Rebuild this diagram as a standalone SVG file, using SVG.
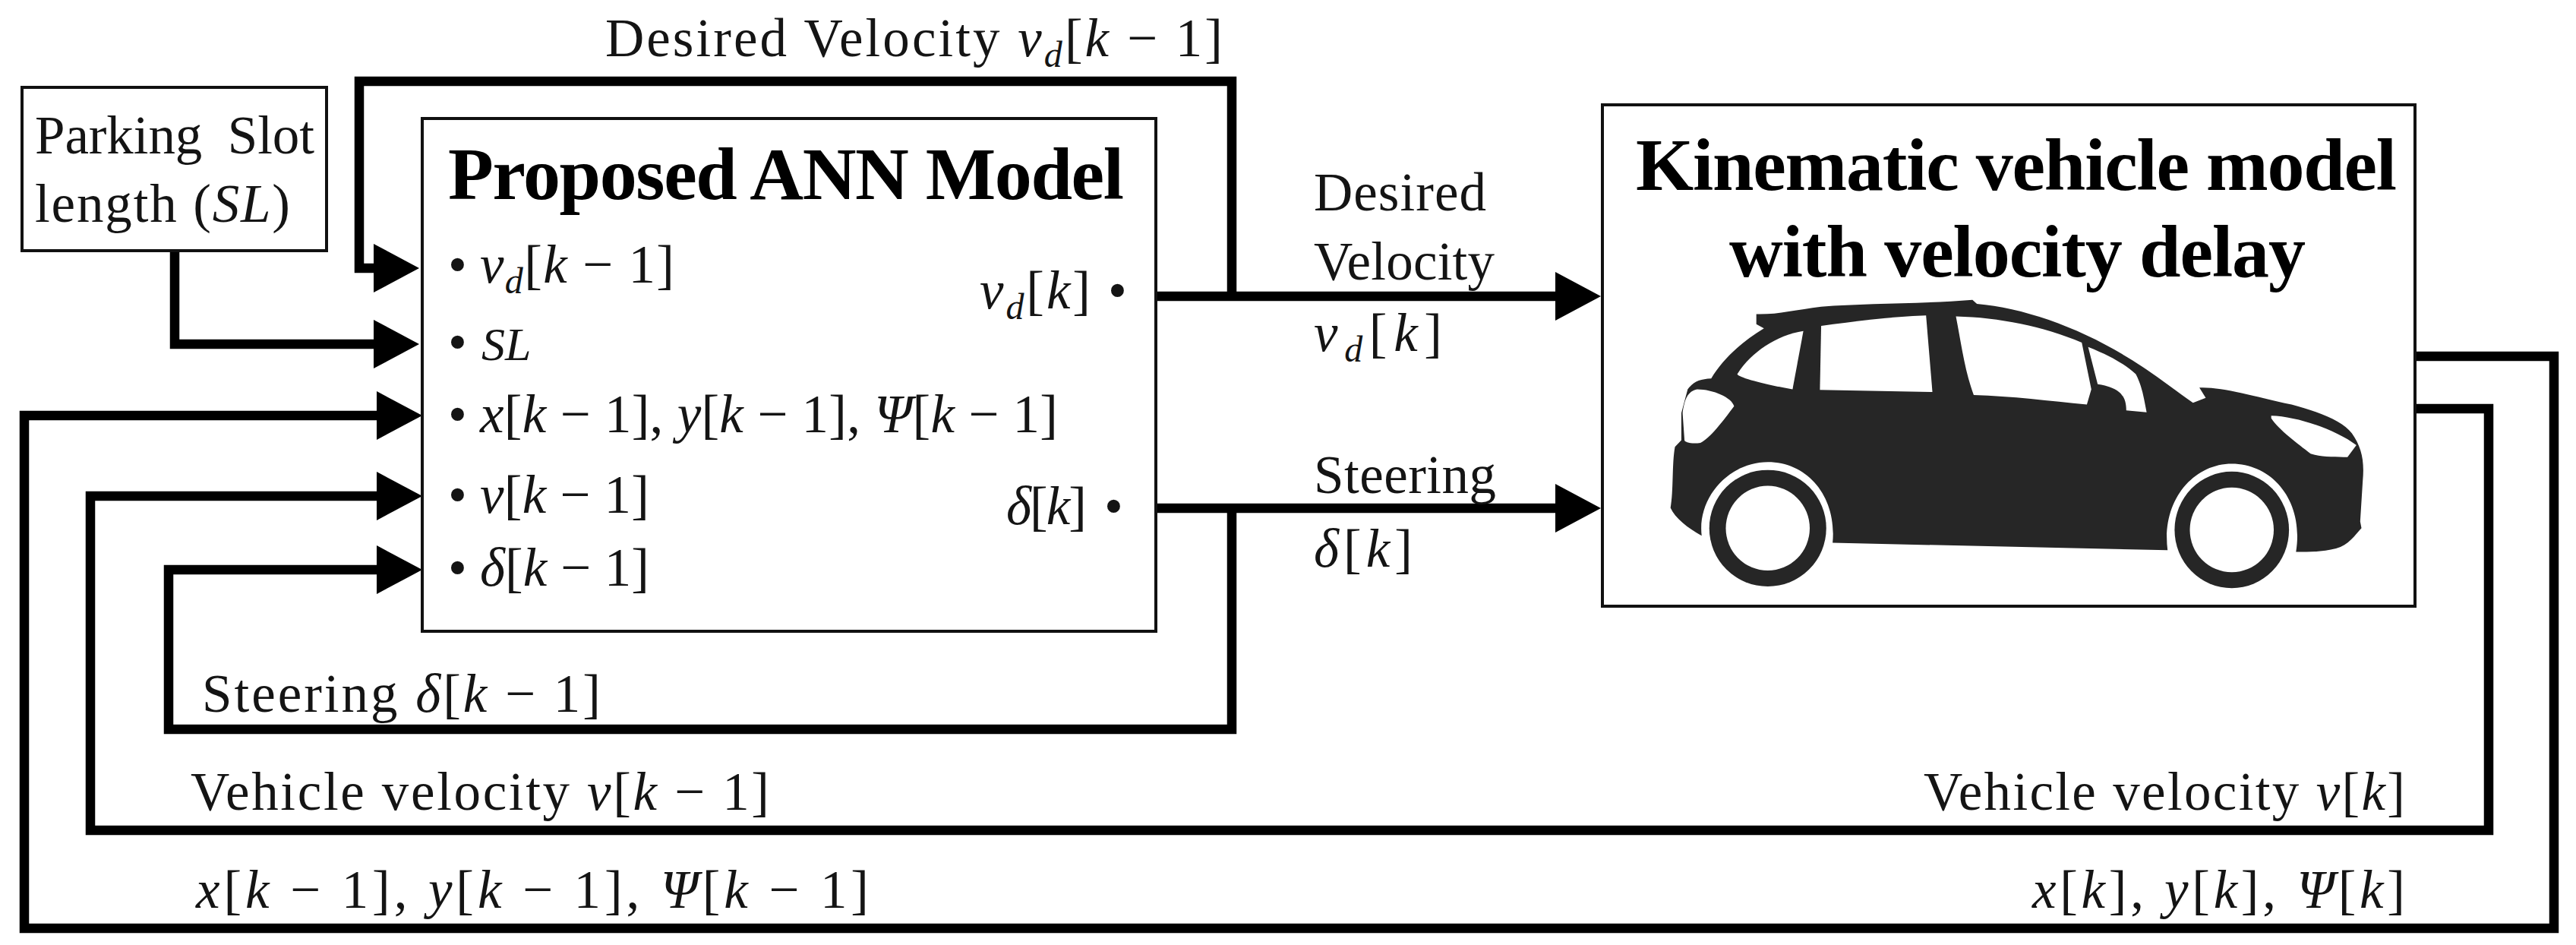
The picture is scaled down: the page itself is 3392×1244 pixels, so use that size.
<svg xmlns="http://www.w3.org/2000/svg" width="3392" height="1244" viewBox="0 0 3392 1244">
<style>
text{font-family:"Liberation Serif","Times New Roman",serif;fill:#141414;font-size:71px}
.t{font-weight:700;font-size:98px;fill:#000}
.m{font-style:italic}
.s{font-size:48px;font-style:italic}
.box{fill:#fff;stroke:#111;stroke-width:4}
.c{fill:none;stroke:#000;stroke-width:12.5;stroke-linejoin:miter}
.a{marker-end:url(#ah)}
.car{fill:#262626}
.w{fill:#fff}
</style>
<defs>
<marker id="ah" markerUnits="userSpaceOnUse" markerWidth="62" markerHeight="66" refX="0" refY="33" orient="auto" viewBox="0 0 62 66"><polygon points="0,1 60,33 0,65" fill="#000"/></marker>
</defs>
<rect width="3392" height="1244" fill="#fff"/>
<g id="connectors">
<path class="c a" d="M1622 390V107H473V353H492"/>
<path class="c a" d="M230 330V453H492"/>
<path class="c a" d="M3180 469H3363V1222H32V547H496"/>
<path class="c a" d="M3180 538H3277V1093H119V653H496"/>
<path class="c a" d="M1622 669V960H222V750H496"/>
<path class="c a" d="M1522 390H2048"/>
<path class="c a" d="M1522 669H2048"/>
</g>
<g id="parking-slot">
<rect class="box" x="29" y="115" width="401" height="215"/>
<text x="46" y="202" textLength="368" word-spacing="16">Parking Slot</text>
<text x="46" y="292" textLength="336">length (<tspan class="m">SL</tspan>)</text>
</g>
<g id="ann-model">
<rect class="box" x="556" y="156" width="966" height="675"/>
<text class="t" x="590" y="262" textLength="890">Proposed ANN Model</text>
<text x="590" y="372">•</text><text x="632" y="372" textLength="256"><tspan class="m">v</tspan><tspan class="s" dy="14">d</tspan><tspan dy="-14">[</tspan><tspan class="m">k</tspan> − 1]</text>
<text x="590" y="474">•</text><text class="m" x="634" y="474" style="font-size:62px">SL</text>
<text x="590" y="569">•</text><text x="632" y="569" textLength="761"><tspan class="m">x</tspan>[<tspan class="m">k</tspan> − 1], <tspan class="m">y</tspan>[<tspan class="m">k</tspan> − 1], <tspan class="m">Ψ</tspan>[<tspan class="m">k</tspan> − 1]</text>
<text x="590" y="675">•</text><text x="632" y="675" textLength="223"><tspan class="m">v</tspan>[<tspan class="m">k</tspan> − 1]</text>
<text x="590" y="771">•</text><text x="632" y="771" textLength="223"><tspan class="m">δ</tspan>[<tspan class="m">k</tspan> − 1]</text>
<text x="1290" y="406" textLength="146"><tspan class="m">v</tspan><tspan class="s" dy="14">d</tspan><tspan dy="-14">[</tspan><tspan class="m">k</tspan>]</text><text x="1459" y="406">•</text>
<text x="1325" y="690" textLength="106"><tspan class="m">δ</tspan>[<tspan class="m">k</tspan>]</text><text x="1454" y="690">•</text>
</g>
<g id="kinematic-model">
<rect class="box" x="2110" y="138" width="1070" height="660"/>
<text class="t" x="2154" y="250" textLength="1002">Kinematic vehicle model</text>
<text class="t" x="2277" y="364" textLength="759">with velocity delay</text>
<g transform="translate(2080,120) scale(.837,.446)">
<path class="car" d="M278 658C310 660 340 645 380 636C450 625 540 628 618 616L625 628C700 640 790 700 870 795C900 830 935 880 965 920L985 905L975 875C1010 872 1060 900 1120 925C1170 950 1200 975 1215 1010C1230 1050 1235 1090 1232 1150L1228 1270L1230 1290C1220 1310 1210 1340 1190 1350C1170 1360 1150 1360 1127 1360C1140 1210 1090 1100 1026 1100C965 1100 915 1210 925 1355L398 1333C405 1200 360 1095 296 1095C235 1095 185 1200 192 1312C170 1290 150 1260 143 1230C148 1180 145 1100 150 1050L160 1030L160 950L170 880C180 855 190 850 207 848C225 790 255 740 290 700L278 688Z"/>
<path class="w" d="M352 708C310 720 270 770 248 835C250 845 290 865 335 880Z"/>
<path class="w" d="M380 693C430 680 490 665 545 662L555 888L378 882Z"/>
<path class="w" d="M592 665C660 668 730 695 790 742L805 880L798 925C740 915 680 900 620 897C605 820 600 740 592 665Z"/>
<path class="w" d="M800 755C840 785 860 810 875 835C885 870 888 910 892 948L860 942C860 900 850 875 815 865Z"/>
<path class="w" d="M185 880C210 880 240 905 243 930C225 975 205 1025 190 1038C175 1042 165 1035 165 1030L162 950C165 910 170 885 185 880Z"/>
<path class="w" d="M1088 958C1130 960 1190 1000 1222 1045L1208 1080C1190 1080 1165 1080 1150 1070C1130 1040 1100 1000 1088 965Z"/>
<ellipse class="car" cx="296" cy="1290" rx="92" ry="172"/><ellipse class="w" cx="296" cy="1290" rx="66" ry="125"/>
<ellipse class="car" cx="1026" cy="1295" rx="90" ry="172"/><ellipse class="w" cx="1026" cy="1295" rx="66" ry="125"/>
</g>
</g>
<g id="labels">
<text x="797" y="74" textLength="813">Desired Velocity <tspan class="m">v</tspan><tspan class="s" dy="14">d</tspan><tspan dy="-14">[</tspan><tspan class="m">k</tspan> − 1]</text>
<text x="1730" y="277" textLength="227">Desired</text>
<text x="1730" y="368" textLength="238">Velocity</text>
<text x="1730" y="462" textLength="169"><tspan class="m">v</tspan><tspan class="s" dy="14">d</tspan><tspan dy="-14">[</tspan><tspan class="m">k</tspan>]</text>
<text x="1730" y="649" textLength="240">Steering</text>
<text x="1730" y="746" textLength="130"><tspan class="m">δ</tspan>[<tspan class="m">k</tspan>]</text>
<text x="266" y="937" textLength="525">Steering <tspan class="m">δ</tspan>[<tspan class="m">k</tspan> − 1]</text>
<text x="251" y="1066" textLength="762">Vehicle velocity <tspan class="m">v</tspan>[<tspan class="m">k</tspan> − 1]</text>
<text x="258" y="1195" textLength="886"><tspan class="m">x</tspan>[<tspan class="m">k</tspan> − 1], <tspan class="m">y</tspan>[<tspan class="m">k</tspan> − 1], <tspan class="m">Ψ</tspan>[<tspan class="m">k</tspan> − 1]</text>
<text x="2533" y="1066" textLength="634">Vehicle velocity <tspan class="m">v</tspan>[<tspan class="m">k</tspan>]</text>
<text x="2676" y="1195" textLength="491"><tspan class="m">x</tspan>[<tspan class="m">k</tspan>], <tspan class="m">y</tspan>[<tspan class="m">k</tspan>], <tspan class="m">Ψ</tspan>[<tspan class="m">k</tspan>]</text>
</g>
</svg>
